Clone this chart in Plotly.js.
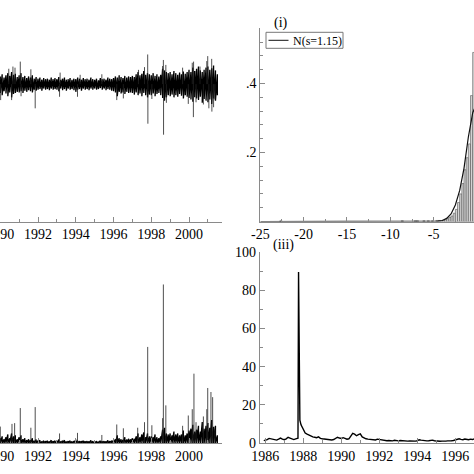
<!DOCTYPE html>
<html>
<head>
<meta charset="utf-8">
<script src="https://cdn.plot.ly/plotly-3.0.1.min.js"></script>
<style>html,body{margin:0;padding:0;background:#fff}#chart{width:474px;height:474px}</style>
</head>
<body>
<div id="chart"></div>
<script>
// ---------- DATA ----------
// (top-left) daily returns, %, summarised as a band on a 0.1-year grid from 1990.0
const bandStartYear = 1990.0;
const bandStep = 0.1;
const retHi = [
 1.4,1.8,1.2,1.6,2.0,1.5,2.2,1.7,1.9,1.3,
 1.6,2.0,1.3,1.5,1.1,1.4,1.2,1.6,1.0,1.3,
 1.0,1.2,0.8,1.1,0.9,1.0,0.8,1.2,0.9,1.1,
 0.9,1.3,0.8,1.0,1.2,0.8,0.9,1.1,0.8,1.0,
 0.9,1.2,1.0,0.8,1.1,0.9,1.0,0.8,1.2,0.9,
 0.8,1.0,0.7,1.1,0.9,1.0,0.8,1.2,1.0,0.9,
 1.1,1.4,1.2,1.6,1.3,1.1,1.5,1.2,1.4,1.3,
 1.5,1.3,1.8,2.2,1.6,1.9,2.4,1.7,2.0,1.8,
 1.6,2.0,1.5,1.8,1.4,1.7,2.8,2.5,2.2,2.0,
 2.2,1.8,2.4,2.0,1.7,2.1,1.8,2.3,1.9,2.2,
 2.6,2.2,3.0,2.4,2.8,3.2,2.5,2.2,2.6,3.0,
 3.2,2.6,2.9,3.4,2.5,1.8];
const retLo = [
 -1.6,-2.0,-1.3,-1.7,-2.2,-1.5,-2.4,-1.8,-1.6,-1.4,
 -1.5,-1.3,-1.6,-1.2,-1.4,-1.1,-1.3,-1.5,-1.0,-1.2,
 -1.0,-0.9,-1.2,-0.8,-1.0,-0.9,-1.1,-0.8,-1.0,-0.9,
 -1.0,-1.3,-0.8,-1.1,-0.9,-1.2,-0.8,-1.0,-0.9,-1.1,
 -1.4,-1.0,-0.9,-1.2,-0.8,-1.0,-0.9,-1.1,-0.8,-1.0,
 -0.8,-1.0,-0.9,-0.7,-1.0,-0.8,-1.1,-0.9,-1.0,-1.2,
 -1.3,-1.5,-2.2,-1.4,-1.7,-1.5,-1.8,-1.4,-1.6,-1.5,
 -1.6,-1.9,-1.5,-2.0,-1.7,-2.2,-1.6,-2.0,-2.4,-1.9,
 -2.0,-1.7,-2.2,-1.8,-1.6,-2.0,-2.5,-3.0,-2.4,-2.0,
 -2.2,-1.9,-2.4,-2.0,-2.3,-1.8,-2.1,-2.6,-2.0,-2.3,
 -2.5,-2.8,-3.2,-2.4,-2.6,-2.9,-2.3,-3.4,-2.7,-3.0,
 -3.3,-2.8,-3.6,-2.6,-3.0,-2.0];
// isolated large daily returns (year, %)
const spikeYears = [1990.02,1990.45,1990.6,1990.67,1990.78,1991.06,1991.1,1991.62,1991.85,1993.14,1993.17,1994.09,1994.23,1995.38,1996.17,1996.52,1997.32,1997.64,1997.81,1997.82,1998.03,1998.6,1998.64,1998.65,1998.77,1998.8,1999.66,1999.96,2000.17,2000.23,2000.24,2000.37,2000.58,2000.76,2000.94,2000.99,2001.05,2001.2,2001.21,2001.3,2001.37];
const spikeRets  = [-2.9,2.8,-2.9,3.2,3.0,4.1,-2.2,2.7,-4.4,-2.3,2.1,-2.3,1.7,1.8,-2.9,-2.6,2.6,3.1,5.4,-7.2,-2.7,3.3,4.4,-9.2,3.5,-3.4,3.0,-3.6,3.9,-6.0,4.1,-3.3,3.2,-3.7,4.2,5.1,-4.4,4.6,-5.0,-4.2,-2.8];

// (bottom-left) squared returns: band top on the same grid, plus spikes
const sqHi = [
 2.5,3.5,2.0,3.0,4.5,2.5,5.0,3.5,4.0,2.0,
 3.0,4.0,2.0,2.5,1.5,2.0,1.5,2.5,1.2,1.8,
 1.2,1.5,0.8,1.2,1.0,1.2,0.8,1.5,1.0,1.2,
 1.0,1.8,0.8,1.2,1.5,0.8,1.0,1.2,0.8,1.0,
 1.8,1.2,1.0,1.0,1.2,0.9,1.0,0.8,1.4,0.9,
 0.8,1.0,0.6,1.2,0.9,1.0,0.8,1.4,1.0,1.2,
 1.5,2.0,4.0,2.5,2.0,1.6,3.0,1.8,2.2,2.0,
 2.5,2.2,3.5,5.0,3.0,4.5,5.5,3.0,5.0,3.5,
 3.5,3.0,4.5,3.0,2.5,3.5,7.0,8.0,5.0,4.5,
 5.0,4.0,6.0,4.5,5.0,4.0,4.5,6.5,4.0,5.0,
 6.5,7.5,9.5,6.0,7.0,9.0,6.0,11.0,7.5,9.0,
 10.5,8.0,12.0,8.5,9.0,4.0];
const sqSpikeYears = [1990.0,1990.62,1990.76,1991.06,1991.62,1991.85,1993.14,1994.09,1995.38,1996.17,1996.52,1997.28,1997.64,1997.81,1998.03,1998.6,1998.64,1998.77,1999.66,1999.96,2000.17,2000.26,2000.37,2000.76,2000.94,2000.99,2001.16,2001.25,2001.37];
const sqSpikeVals  = [8.6,10,10.4,18.3,8,18.8,5,5.3,4.2,9.7,7.7,8,10.9,50.3,9.3,13,83,19.7,9,14.4,17.7,36.3,10.9,13.9,17.7,28.8,26.7,24,7];

// (i) histogram of returns and fitted normal
const binCenters = [-22.625,-8.625,-7.125,-6.875,-6.125,-5.625,-5.125,-4.625,-4.375,-4.125,-3.875,-3.625,-3.375,-3.125,-2.875,-2.625,-2.375,-2.125,-1.875,-1.625,-1.375,-1.125,-0.875,-0.625,-0.375];
const binDensity = [0.002,0.002,0.002,0.002,0.002,0.002,0.002,0.003,0.003,0.003,0.004,0.005,0.008,0.012,0.016,0.024,0.035,0.055,0.08,0.11,0.15,0.185,0.225,0.365,0.49];
const binWidth = 0.25;
const normX = [-25,-5,-4.5,-4,-3.5,-3,-2.5,-2,-1.5,-1,-0.5,0];
const normY = [0,0,0.001,0.003,0.009,0.022,0.048,0.09,0.155,0.245,0.315,0.345];
const normName = 'N(s=1.15)';
const histTickVals = [-25,-20,-15,-10,-5];
const histTickText = ['-25','-20','-15','-10','-5'];

// (iii) conditional variance
const condYears = [1985.92,1986.0,1986.1,1986.2,1986.3,1986.4,1986.5,1986.6,1986.7,1986.8,1986.9,1987.0,1987.1,1987.2,1987.3,1987.4,1987.5,1987.6,1987.7,1987.72,1987.75,1987.78,1987.82,1987.88,1987.95,
 1988.0,1988.1,1988.2,1988.3,1988.4,1988.5,1988.6,1988.7,1988.8,1988.9,
 1989.0,1989.1,1989.2,1989.3,1989.4,1989.5,1989.6,1989.7,1989.8,1989.9,
 1990.0,1990.1,1990.2,1990.3,1990.4,1990.5,1990.6,1990.7,1990.8,1990.9,
 1991.0,1991.1,1991.2,1991.3,1991.4,1991.5,1991.6,1991.7,1991.8,1991.9,
 1992.0,1992.1,1992.2,1992.3,1992.4,1992.5,1992.6,1992.7,1992.8,1992.9,
 1993.0,1993.1,1993.2,1993.3,1993.4,1993.5,1993.6,1993.7,1993.8,1993.9,
 1994.0,1994.1,1994.2,1994.3,1994.4,1994.5,1994.6,1994.7,1994.8,1994.9,
 1995.0,1995.1,1995.2,1995.3,1995.4,1995.5,1995.6,1995.7,1995.8,1995.9,
 1996.0,1996.1,1996.2,1996.3,1996.4,1996.5,1996.6,1996.7,1996.8,1996.9,1997.0];
const condVals = [1.2,1.4,1.8,2.4,2.2,1.8,1.6,1.5,2.0,2.6,2.0,1.7,2.2,3.0,2.6,2.0,1.8,2.2,2.4,2.5,89.5,18,12,9.5,8,
 6.5,5.2,4.6,4.0,3.6,3.2,3.0,2.8,3.2,2.4,
 2.2,2.0,1.8,1.9,1.7,1.6,1.8,2.2,3.0,2.6,
 2.4,2.8,2.2,2.0,2.2,3.6,5.0,4.6,3.8,4.4,
 4.8,3.2,2.6,2.2,2.0,1.8,1.9,1.7,1.6,2.0,
 1.8,1.5,1.4,1.3,1.2,1.3,1.2,1.1,1.4,1.2,
 1.1,1.3,1.2,1.0,1.1,1.0,1.1,1.0,1.2,1.0,
 1.2,1.7,1.5,1.3,1.2,1.1,1.2,1.3,1.5,1.2,
 1.0,0.9,0.9,1.0,0.9,1.0,1.1,1.0,1.2,1.3,
 1.5,2.0,2.2,1.9,1.7,2.1,1.8,1.7,2.0,1.8,2.1];

// ---------- BUILD TRACES ----------
const bandYears = retHi.map((_, i) => +(bandStartYear + i * bandStep).toFixed(3));
function bandTrace(hi, lo, xa, ya) {
  const x = [], y = [];
  for (let i = 0; i < hi.length; i++) { x.push(bandYears[i], bandYears[i]); y.push(hi[i], lo[i]); }
  return {type:'scatter', mode:'lines', x, y, xaxis:xa, yaxis:ya, showlegend:false, hoverinfo:'skip',
          line:{color:'#000', width:1.3}};
}
function spikeTrace(yrs, vals, xa, ya) {
  const x = [], y = [];
  yrs.forEach((t, i) => { x.push(t, t, null); y.push(0, vals[i], null); });
  return {type:'scatter', mode:'lines', x, y, xaxis:xa, yaxis:ya, showlegend:false, hoverinfo:'skip',
          line:{color:'#222', width:0.8}};
}
const zeros = sqHi.map(() => 0);
const traces = [
  bandTrace(retHi, retLo, 'x', 'y'),
  spikeTrace(spikeYears, spikeRets, 'x', 'y'),
  {type:'bar', x:binCenters, y:binDensity, width:binWidth, xaxis:'x2', yaxis:'y2', showlegend:false,
   marker:{color:'#d4d4d4', line:{color:'#555', width:0.6}}, hoverinfo:'skip'},
  {type:'scatter', mode:'lines', x:normX, y:normY, xaxis:'x2', yaxis:'y2', name:normName, showlegend:false,
   line:{color:'#111', width:1.2}},
  bandTrace(sqHi, zeros, 'x3', 'y3'),
  spikeTrace(sqSpikeYears, sqSpikeVals, 'x3', 'y3'),
  {type:'scatter', mode:'lines', x:condYears, y:condVals, xaxis:'x4', yaxis:'y4', showlegend:false,
   line:{color:'#000', width:1.4}, hoverinfo:'skip'}
];

// ---------- LAYOUT ----------
const W = 474;
const FAM = 'Liberation Serif';
const mkFont = (s) => ({family:FAM, size:s, color:'#000'});
const axCol = '#8a8a8a';
function ax(extra) {
  return Object.assign({showline:true, linecolor:axCol, linewidth:1, ticks:'inside', ticklen:5, tickwidth:1,
    tickcolor:axCol, showgrid:false, zeroline:false, tickfont:mkFont(14), fixedrange:true,
    ticklabeloverflow:'allow'}, extra);
}
const topBot = (474 - 221.5) / W, topTop = (474 - 29.2) / W;
const botBot = (474 - 443) / W, botTop = (474 - 252) / W;
const leftRight = 222 / W;
// legend box drawn in paper pixels (converted to paper fractions)
const px = (v) => v / W, py = (v) => (474 - v) / W;
const layout = {
  width:474, height:474, margin:{l:0, r:0, t:0, b:0}, paper_bgcolor:'#fff', plot_bgcolor:'rgba(0,0,0,0)',
  font:mkFont(14), bargap:0, showlegend:false,
  xaxis: ax({domain:[0, leftRight], anchor:'y', range:[1989.985, 2001.746], tickmode:'linear', tick0:1990, dtick:2,
             minor:{dtick:1, tick0:1990, ticks:'inside', ticklen:3, tickcolor:axCol}}),
  yaxis: {domain:[topBot, topTop], anchor:'x', range:[-25, 10], visible:false, fixedrange:true},
  xaxis2: ax({domain:[260.3 / W, 1], anchor:'y2', range:[-25, -0.35], tickmode:'array',
             tickvals:histTickVals, ticktext:histTickText,
             minor:{dtick:2.5, tick0:-25, ticks:'inside', ticklen:3, tickcolor:axCol}}),
  yaxis2: ax({domain:[topBot, (474 - 28.3) / W], anchor:'x2', range:[0, 0.56], tickmode:'array',
             tickvals:[0.2, 0.4], ticktext:['.2', '.4'],
             minor:{dtick:0.04, tick0:0, ticks:'inside', ticklen:3, tickcolor:axCol}}),
  xaxis3: ax({domain:[0, leftRight], anchor:'y3', range:[1989.985, 2001.746], tickmode:'linear', tick0:1990, dtick:2,
             minor:{dtick:1, tick0:1990, ticks:'inside', ticklen:3, tickcolor:axCol}}),
  yaxis3: {domain:[botBot, botTop], anchor:'x3', range:[0, 100], visible:false, fixedrange:true},
  xaxis4: ax({domain:[259.7 / W, 1], anchor:'y4', range:[1985.705, 1996.984], tickmode:'linear', tick0:1986, dtick:2,
             minor:{dtick:1, tick0:1986, ticks:'inside', ticklen:3, tickcolor:axCol}}),
  yaxis4: ax({domain:[botBot, botTop], anchor:'x4', range:[0, 100], tickmode:'linear', tick0:0, dtick:20,
             minor:{dtick:10, tick0:0, ticks:'inside', ticklen:3, tickcolor:axCol}}),
  shapes: [
    {type:'rect', xref:'paper', yref:'paper', x0:px(266), x1:px(343), y0:py(48.3), y1:py(32.3),
     line:{color:'#777', width:1}, fillcolor:'#fff', layer:'above'},
    {type:'line', xref:'paper', yref:'paper', x0:px(268.5), x1:px(288.5), y0:py(40.3), y1:py(40.3),
     line:{color:'#111', width:1}, layer:'above'}
  ],
  annotations: [
    {xref:'paper', yref:'paper', x:px(290.5), y:py(40.5), text:normName, showarrow:false, xanchor:'left', yanchor:'middle', font:mkFont(12)},
    {xref:'paper', yref:'paper', x:px(280.5), y:py(23.3), text:'(i)', showarrow:false, xanchor:'center', yanchor:'middle', font:mkFont(14)},
    {xref:'paper', yref:'paper', x:px(283.7), y:py(245.3), text:'(iii)', showarrow:false, xanchor:'center', yanchor:'middle', font:mkFont(14)}
  ]
};
Plotly.newPlot('chart', traces, layout, {staticPlot:true, displayModeBar:false});
</script>
</body>
</html>
